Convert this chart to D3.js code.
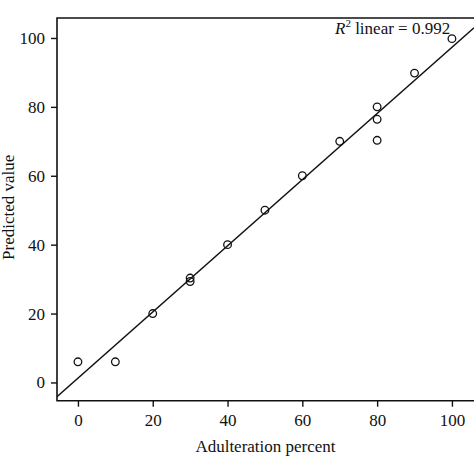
<!DOCTYPE html>
<html>
<head>
<meta charset="utf-8">
<script src="https://cdn.jsdelivr.net/npm/d3@7"></script>
<style>
  body { margin: 0; background: #fff; }
  svg { display: block; }
  text { font-family: "Liberation Serif", "DejaVu Serif", serif; fill: #111; }
</style>
</head>
<body>
<svg id="chart" width="474" height="474"></svg>
<script>
// values
var adulteration = [0, 10, 20, 30, 30, 40, 50, 60, 70, 80, 80, 80, 90, 100];
var predicted = [6, 6, 20, 30.3, 29.3, 40, 50, 60, 70, 80, 76.4, 70.3, 89.8, 99.8];
var xTicks = [0, 20, 40, 60, 80, 100];
var yTicks = [0, 20, 40, 60, 80, 100];
var r2Value = "0.992";

var svg = d3.select("#chart"),
  width = +svg.attr("width"),
  height = +svg.attr("height");

var margin = { top: 18, right: 0, bottom: 73.3, left: 57 };
var x0 = margin.left, x1 = width - margin.right,
  y0 = height - margin.bottom, y1 = margin.top;

var x = d3.scaleLinear().domain([-5.6, 105.9]).range([x0, x1]);
var y = d3.scaleLinear().domain([-5.3, 105.8]).range([y0, y1]);

// least squares fit
var mx = d3.mean(adulteration), my = d3.mean(predicted);
var sxy = d3.sum(adulteration, function (d, i) { return (d - mx) * (predicted[i] - my); });
var sxx = d3.sum(adulteration, function (d) { return (d - mx) * (d - mx); });
var slope = sxy / sxx, intercept = my - slope * mx;

svg.append("clipPath").attr("id", "plotclip")
  .append("rect")
  .attr("x", x0).attr("y", y1)
  .attr("width", x1 - x0).attr("height", y0 - y1);

var dom = x.domain();
svg.append("line")
  .attr("clip-path", "url(#plotclip)")
  .attr("x1", x(dom[0])).attr("y1", y(intercept + slope * dom[0]))
  .attr("x2", x(dom[1])).attr("y2", y(intercept + slope * dom[1]))
  .attr("stroke", "#111")
  .attr("stroke-width", 1.4);

svg.selectAll(".pt")
  .data(adulteration)
  .enter().append("circle")
  .attr("class", "pt")
  .attr("cx", function (d) { return x(d); })
  .attr("cy", function (d, i) { return y(predicted[i]); })
  .attr("r", 3.8)
  .attr("fill", "none")
  .attr("stroke", "#111")
  .attr("stroke-width", 1.3);

// frame (right side runs off the picture)
svg.append("path")
  .attr("d", "M" + (x1 + 2) + "," + y1 + "H" + x0 + "V" + y0 + "H" + (x1 + 2))
  .attr("fill", "none")
  .attr("stroke", "#111")
  .attr("stroke-width", 1.6);

var xAxis = svg.append("g")
  .attr("transform", "translate(0," + y0 + ")")
  .call(d3.axisBottom(x).tickValues(xTicks).tickSize(6).tickPadding(7));
var yAxis = svg.append("g")
  .attr("transform", "translate(" + x0 + ",0)")
  .call(d3.axisLeft(y).tickValues(yTicks).tickSize(6).tickPadding(6));

[xAxis, yAxis].forEach(function (g) {
  g.select(".domain").remove();
  g.selectAll(".tick line").attr("stroke", "#111").attr("stroke-width", 1.4);
  g.selectAll(".tick text")
    .attr("fill", "#111")
    .style("font-family", '"Liberation Serif", "DejaVu Serif", serif')
    .style("font-size", "17px");
});

svg.append("text")
  .attr("x", (x0 + x1) / 2)
  .attr("y", 452)
  .attr("text-anchor", "middle")
  .style("font-size", "17px")
  .text("Adulteration percent");

svg.append("text")
  .attr("transform", "translate(14," + ((y0 + y1) / 2 - 2) + ") rotate(-90)")
  .attr("text-anchor", "middle")
  .style("font-size", "17px")
  .text("Predicted value");

var r2 = svg.append("text")
  .attr("x", 335)
  .attr("y", 34)
  .style("font-size", "17px");
r2.append("tspan").style("font-style", "italic").text("R");
r2.append("tspan").attr("dy", -7).style("font-size", "11px").text("2");
r2.append("tspan").attr("dy", 7).text(" linear = " + r2Value);
</script>
</body>
</html>
